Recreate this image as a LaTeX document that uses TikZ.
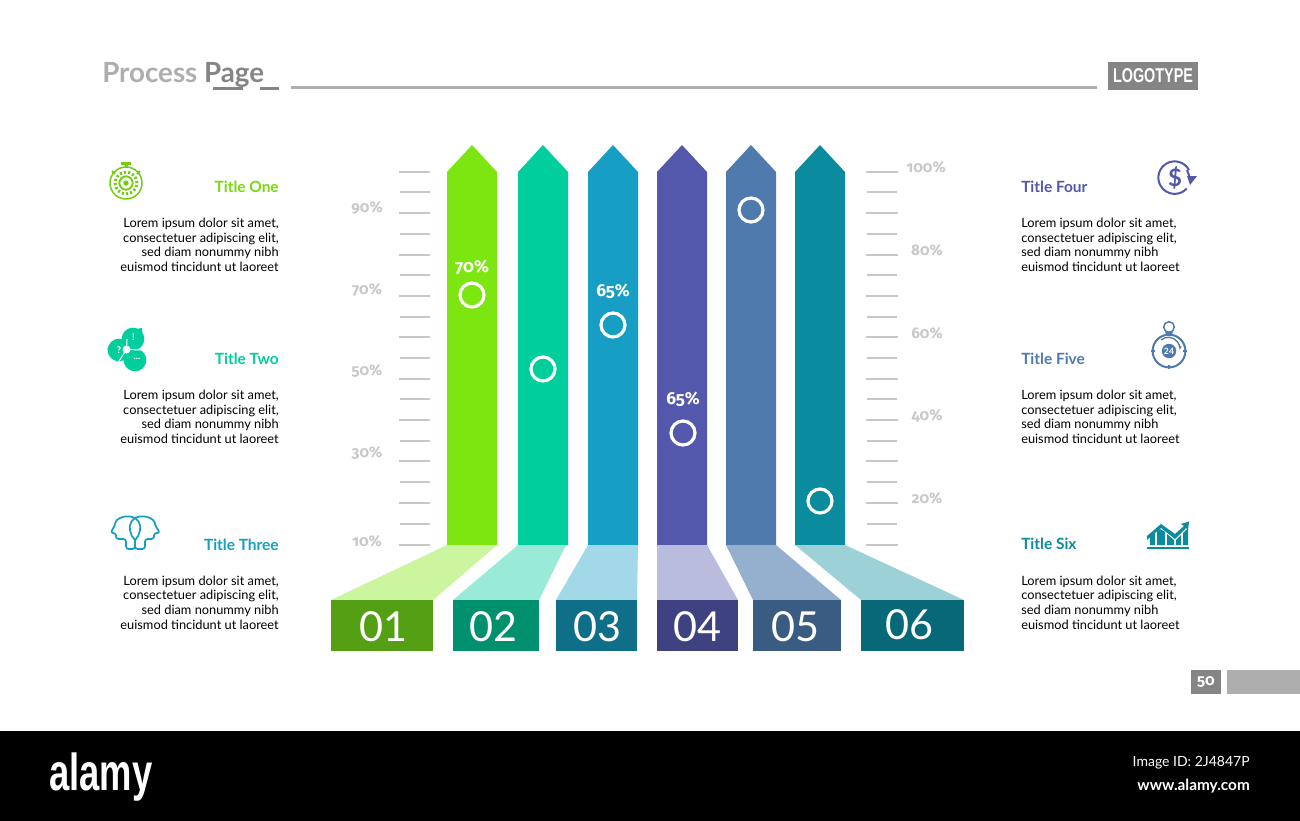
\documentclass[tikz,border=0pt]{standalone}
\usepackage{fontspec}
\setmainfont{Lato}
\newfontfamily\numfont[Numbers=OldStyle]{Fira Sans}
\newfontfamily\logofont[FakeStretch=0.72]{Liberation Sans}
\newfontfamily\stockfont[FakeStretch=0.7]{Liberation Sans}
\definecolor{barone}{HTML}{7DE510}
\definecolor{bartwo}{HTML}{00CE9C}
\definecolor{barthree}{HTML}{169EC4}
\definecolor{barfour}{HTML}{5358AC}
\definecolor{barfive}{HTML}{4F7AAD}
\definecolor{barsix}{HTML}{0A8C9E}
\definecolor{rule}{HTML}{AEAEAE}
\definecolor{dark}{HTML}{858585}
\definecolor{tick}{HTML}{C8C8C8}
\usetikzlibrary{arrows.meta}
\begin{document}
\begin{tikzpicture}[x=0.75pt, y=-0.75pt, node distance=21pt,
    pct node/.style={font=\numfont\bfseries\fontsize{13}{13}\selectfont, text=white, inner sep=0pt},
    ring/.style={circle, draw=white, line width=2.4pt, minimum size=18pt, inner sep=0pt},
    scale node/.style={font=\numfont\bfseries\fontsize{11.5}{12}\selectfont, text=tick, inner sep=0pt},
    number/.style={font=\fontsize{31}{31}\selectfont, text=white, inner sep=0pt},
    title left/.style={font=\bfseries\fontsize{11.6}{12}\selectfont, anchor=east, inner sep=0pt},
    title right/.style={font=\bfseries\fontsize{11.6}{12}\selectfont, anchor=west, inner sep=0pt},
    body left/.style={font=\fontsize{9.6}{10.95}\selectfont, align=right, anchor=east, inner sep=0pt},
    body right/.style={font=\fontsize{9.6}{10.95}\selectfont, align=left, anchor=west, inner sep=0pt},
    major/.style={draw=tick, line width=1.9pt},
    minor/.style={draw=tick, line width=0.9pt}]

  \fill[white] (0,0) rectangle (1300,821);
  \useasboundingbox (0,0) rectangle (1300,821);

  % header
  \node[inner sep=0pt, anchor=base west, font=\bfseries\fontsize{20.8}{21}\selectfont, text=rule] (head) at (102,82) {Process \textcolor{dark}{Page}};
  \fill[dark] (213,87) rectangle (243,90);
  \fill[dark] (260,87) rectangle (279,90);
  \fill[rule] (291,85.5) rectangle (1097,89);
  \node[fill=dark, text=white, minimum width=67.5pt, minimum height=21pt, inner sep=0pt, font=\logofont\bfseries\fontsize{15}{15}\selectfont] (logo) at (1153,76) {LOGOTYPE};

  % scale marks
  \path[major]
    (399,172) -- (430,172) (399,213) -- (430,213) (399,255) -- (430,255) (399,296) -- (430,296) (399,337) -- (430,337)
    (399,379) -- (430,379) (399,420) -- (430,420) (399,461) -- (430,461) (399,503) -- (430,503) (399,545) -- (430,545)
    (866,172) -- (898,172) (866,213) -- (898,213) (866,255) -- (898,255) (866,296) -- (898,296) (866,337) -- (898,337)
    (866,379) -- (898,379) (866,420) -- (898,420) (866,461) -- (898,461) (866,503) -- (898,503) (866,545) -- (898,545);
  \path[minor]
    (400,192) -- (430,192) (400,234) -- (430,234) (400,275) -- (430,275) (400,317) -- (430,317) (400,358) -- (430,358)
    (400,399) -- (430,399) (400,441) -- (430,441) (400,482) -- (430,482) (400,524) -- (430,524)
    (867,192) -- (897,192) (867,234) -- (897,234) (867,275) -- (897,275) (867,317) -- (897,317) (867,358) -- (897,358)
    (867,399) -- (897,399) (867,441) -- (897,441) (867,482) -- (897,482) (867,524) -- (897,524);

  \node[scale node] (s90) at (367,208) {90\%};
  \node[scale node] (s70) at (367,290) {70\%};
  \node[scale node] (s50) at (367,371) {50\%};
  \node[scale node] (s30) at (367,453) {30\%};
  \node[scale node] (s10) at (367,541) {10\%};
  \node[scale node] (s100) at (926,167) {100\%};
  \node[scale node] (s80) at (927,250) {80\%};
  \node[scale node] (s60) at (927,333) {60\%};
  \node[scale node] (s40) at (927,416) {40\%};
  \node[scale node] (s20) at (927,498) {20\%};

  % arrows
  \fill[barone] (447,545) -- (447,172) -- (472,145) -- (497,172) -- (497,545) -- cycle;
  \fill[bartwo] (518,545) -- (518,172) -- (543,145) -- (568,172) -- (568,545) -- cycle;
  \fill[barthree] (588,545) -- (588,172) -- (613,145) -- (638,172) -- (638,545) -- cycle;
  \fill[barfour] (657,545) -- (657,172) -- (682,145) -- (707,172) -- (707,545) -- cycle;
  \fill[barfive] (726,545) -- (726,172) -- (751,145) -- (776,172) -- (776,545) -- cycle;
  \fill[barsix] (795,545) -- (795,172) -- (820,145) -- (845,172) -- (845,545) -- cycle;

  % feet
  \fill[barone!40] (447,545) -- (497,545) -- (433,600) -- (331,600) -- cycle;
  \fill[bartwo!40] (518,545) -- (566,545) -- (539,600) -- (453,600) -- cycle;
  \fill[barthree!40] (588,545) -- (638,545) -- (637,600) -- (556,600) -- cycle;
  \fill[barfour!40] (657,545) -- (707,545) -- (738,600) -- (657,600) -- cycle;
  \fill[barfive!60] (726,545) -- (776,545) -- (841,600) -- (753,600) -- cycle;
  \fill[barsix!40] (795,545) -- (845,545) -- (964,600) -- (861,600) -- cycle;

  % numbered boxes
  \fill[barone!70!black!95!barsix] (331,600) rectangle (433,651);
  \fill[bartwo!70!black] (453,600) rectangle (539,651);
  \fill[barthree!70!black] (556,600) rectangle (637,651);
  \fill[barfour!75!black] (657,600) rectangle (738,651);
  \fill[barfive!75!black] (753,600) rectangle (841,651);
  \fill[barsix!75!black] (861,600) rectangle (964,651);
  \node[number] (n1) at (383,627) {01};
  \node[number] (n2) at (493,627) {02};
  \node[number] (n3) at (597,627) {03};
  \node[number] (n4) at (697,627) {04};
  \node[number] (n5) at (795,627) {05};
  \node[number] (n6) at (909,625) {06};

  % rings and values
  \node[ring] (r1) at (472,295) {};
  \node[ring] (r2) at (543,369) {};
  \node[ring] (r3) at (613,325) {};
  \node[ring] (r4) at (683,433) {};
  \node[ring] (r5) at (751,210) {};
  \node[ring] (r6) at (820,501) {};
  \node[pct node] (p1) [above of=r1] {70\%};
  \node[pct node] (p3) [above of=r3, yshift=4pt] {65\%};
  \node[pct node] (p4) [above of=r4, yshift=4pt] {65\%};

  % left texts
  \node[title left, text=barone!95!black] (t1) at (279,187) {Title One};
  \node[body left] (b1) at (279,245) {Lorem ipsum dolor sit amet,\\consectetuer adipiscing elit,\\sed diam nonummy nibh\\euismod tincidunt ut laoreet};
  \node[title left, text=bartwo] (t2) at (279,359) {Title Two};
  \node[body left] (b2) at (279,417) {Lorem ipsum dolor sit amet,\\consectetuer adipiscing elit,\\sed diam nonummy nibh\\euismod tincidunt ut laoreet};
  \node[title left, text=barthree] (t3) at (279,545) {Title Three};
  \node[body left] (b3) at (279,602.5) {Lorem ipsum dolor sit amet,\\consectetuer adipiscing elit,\\sed diam nonummy nibh\\euismod tincidunt ut laoreet};

  % right texts
  \node[title right, text=barfour] (t4) at (1021,187) {Title Four};
  \node[body right] (b4) at (1021,245) {Lorem ipsum dolor sit amet,\\consectetuer adipiscing elit,\\sed diam nonummy nibh\\euismod tincidunt ut laoreet};
  \node[title right, text=barfive] (t5) at (1021,359) {Title Five};
  \node[body right] (b5) at (1021,417) {Lorem ipsum dolor sit amet,\\consectetuer adipiscing elit,\\sed diam nonummy nibh\\euismod tincidunt ut laoreet};
  \node[title right, text=barsix] (t6) at (1021,544) {Title Six};
  \node[body right] (b6) at (1021,602.5) {Lorem ipsum dolor sit amet,\\consectetuer adipiscing elit,\\sed diam nonummy nibh\\euismod tincidunt ut laoreet};

  % icon one, stopwatch with cog
  \draw[barone!90!black, line width=1.1pt] (126,183) circle (12pt);
  \draw[barone!90!black, line width=2.2pt, dash pattern=on 1.6pt off 1.6pt] (126,183) circle (8.2pt);
  \draw[barone!90!black, line width=1.4pt] (126,183) circle (5pt);
  \fill[barone!90!black] (126,183) circle (2pt);
  \fill[barone!90!black] (121,162) rectangle (131,165);
  \fill[barone!90!black] (124.5,165) rectangle (127.5,168);
  \draw[barone!90!black, line width=1.4pt] (112,171) -- (115,174) (140,171) -- (137,174);

  % icon two, three bubbles
  \fill[bartwo] (133,339) circle (8.5pt);
  \fill[bartwo] (119,350) circle (8.5pt);
  \fill[bartwo] (135,360) circle (8.5pt);
  \fill[bartwo] (142,328) -- (131,330) -- (143,340) -- cycle;
  \fill[bartwo] (107,349) -- (118,342) -- (118,358) -- cycle;
  \fill[bartwo] (143,368) -- (144,355) -- (131,369) -- cycle;
  \fill[white] (126.5,349.5) circle (3pt);
  \draw[white, line width=0.8pt] (126.5,349.5) -- (127,339) (126.5,349.5) -- (119,361) (126.5,349.5) -- (143,350);
  \node[text=white, inner sep=0pt, font=\bfseries\fontsize{7}{7}\selectfont] (q1) at (133.5,337) {!};
  \node[text=white, inner sep=0pt, font=\bfseries\fontsize{7}{7}\selectfont] (q2) at (119,350) {?};
  \node[text=white, inner sep=0pt, font=\bfseries\fontsize{7}{7}\selectfont] (q3) at (137,359) {...};

  % icon three, two heads
  \draw[barthree, line width=1.3pt, line join=round, rounded corners=2pt]
    (126,549) -- (126,539) -- (116,539) -- (116,533) -- (110.5,533) -- (115,525)
    .. controls (116,519) and (123,516.5) .. (128,516.5)
    .. controls (137,516.5) and (142,525) .. (139,533)
    .. controls (138,537) and (135,539) .. (135,543) -- (135,549) -- cycle;
  \draw[barthree, line width=1.3pt, line join=round, rounded corners=2pt]
    (145,549) -- (145,539) -- (154,539) -- (154,533) -- (160,533) -- (155,525)
    .. controls (154,519) and (147,516.5) .. (142,516.5)
    .. controls (133,516.5) and (128,525) .. (131,533)
    .. controls (132,537) and (135,539) .. (135,543) -- (135,549) -- cycle;

  % icon four, dollar with turn arrow
  \draw[barfour, line width=1.5pt] (1189,170) arc[start angle=28, end angle=318, radius=12.2pt];
  \fill[barfour] (1187,176) -- (1197,176) -- (1190,185) -- cycle;
  \draw[barfour, line width=1.5pt] (1187,170) -- (1190,178);
  \node[text=barfour, inner sep=0pt, font=\bfseries\fontsize{18}{18}\selectfont] (dollar) at (1175,178) {\$};

  % icon five, stopwatch 24
  \draw[barfive, line width=1.5pt] (1169,351) circle (12.3pt);
  \draw[barfive, line width=1.1pt] (1169,327) circle (4pt);
  \fill[barfive] (1165,332) -- (1173,332) -- (1171,336) -- (1167,336) -- cycle;
  \fill[barfive] (1169,351) circle (5.4pt);
  \draw[barfive, line width=1pt, -{Stealth[length=3pt]}] (1161,340) arc[start angle=130, end angle=-5, radius=8.6pt];
  \draw[barfive, line width=1.5pt] (1151,351) -- (1155,351) (1183,351) -- (1187,351) (1169,365) -- (1169,369);
  \node[text=white, inner sep=0pt, font=\bfseries\fontsize{6.5}{7}\selectfont] (hours) at (1169,351) {24};

  % icon six, chart
  \fill[barsix] (1147,536) -- (1161,524) -- (1175,534) -- (1184,526) -- (1181,524) -- (1189,521.5) -- (1188,530) -- (1186,528) -- (1175,539) -- (1161,528) -- (1147,540) -- cycle;
  \fill[barsix] (1150,537) -- (1155,533) -- (1155,545) -- (1150,545) -- cycle;
  \fill[barsix] (1157,531) -- (1160,529) -- (1165,532) -- (1165,545) -- (1157,545) -- cycle;
  \fill[barsix] (1167,534) -- (1174,540) -- (1174,545) -- (1167,545) -- cycle;
  \fill[barsix] (1176,540) -- (1181,535) -- (1181,545) -- (1176,545) -- cycle;
  \fill[barsix] (1183,533) -- (1188,528) -- (1188,545) -- (1183,545) -- cycle;
  \fill[barsix] (1147,547) rectangle (1189,549);

  % page number
  \node[fill=dark, text=white, minimum width=22.5pt, minimum height=18pt, inner sep=0pt, font=\numfont\bfseries\fontsize{11.5}{12}\selectfont] (page) at (1206,682) {50};
  \fill[rule] (1227,670) rectangle (1300,694);

  % stock footer
  \fill[black] (0,731) rectangle (1300,821);
  \node[text=white, inner sep=0pt, anchor=base, font=\stockfont\bfseries\fontsize{39}{39}\selectfont] (brand) at (101,790) {alamy};
  \node[text=white, inner sep=0pt, anchor=east, font=\fontsize{10.5}{11}\selectfont] (imgid) at (1250,763) {Image ID: 2J4847P};
  \node[text=white, inner sep=0pt, anchor=east, font=\bfseries\fontsize{11.5}{12}\selectfont] (site) at (1250,786) {www.alamy.com};
\end{tikzpicture}
\end{document}
